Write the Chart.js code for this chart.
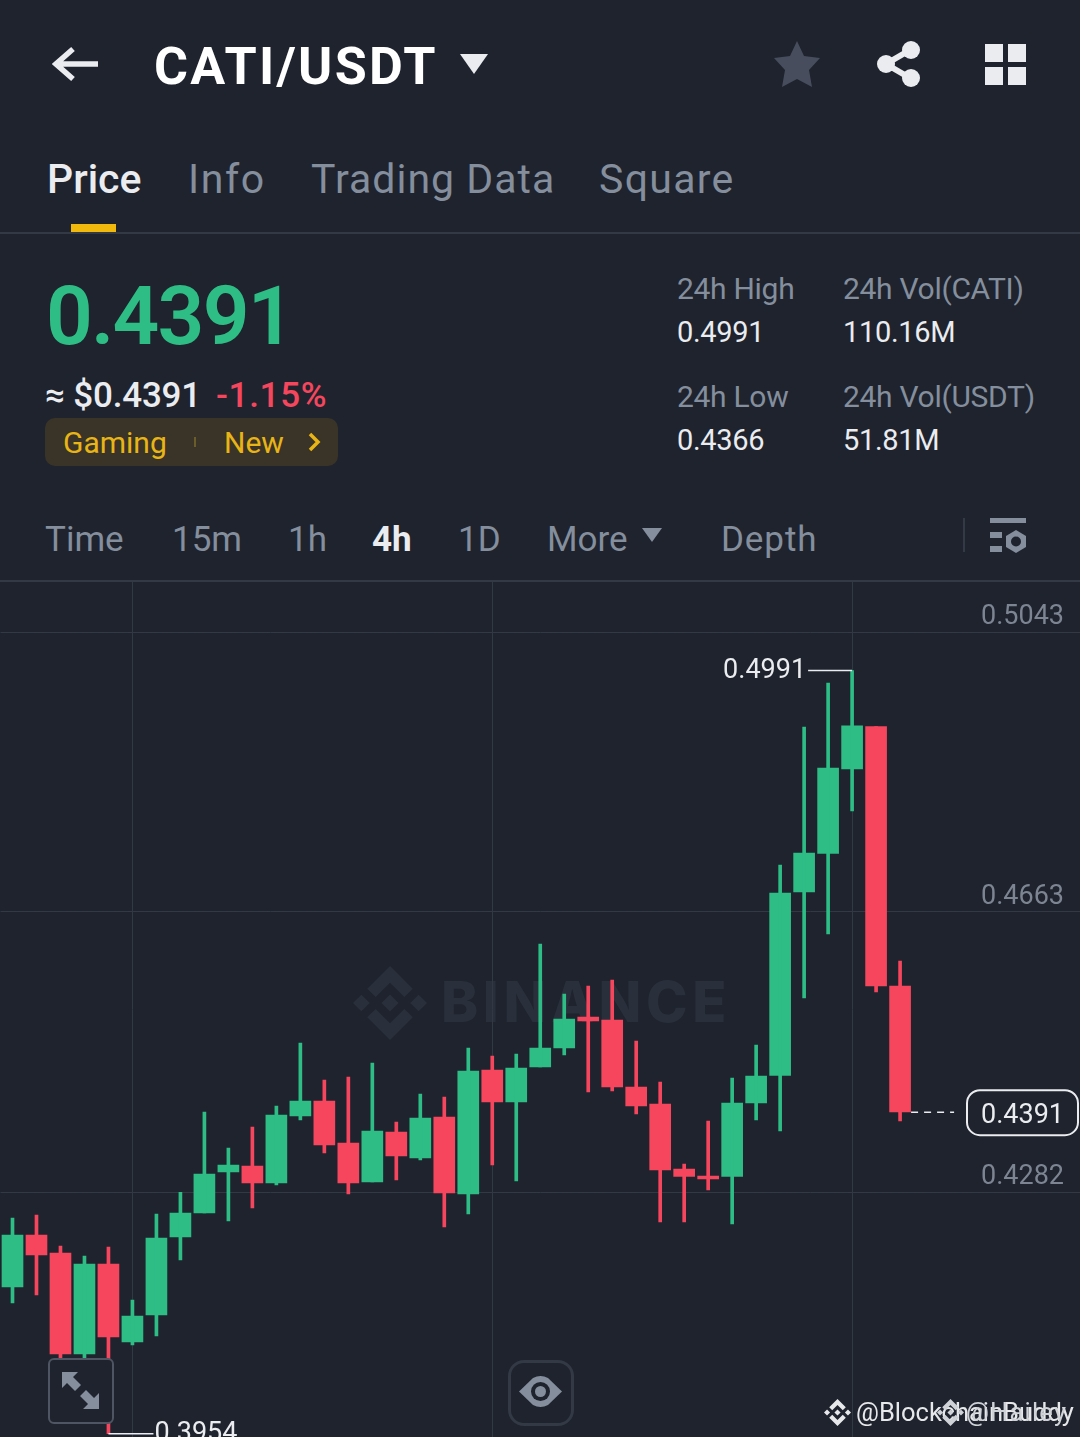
<!DOCTYPE html>
<html>
<head>
<meta charset="utf-8">
<script src="https://cdn.jsdelivr.net/npm/chart.js@4/dist/chart.umd.js"></script>
<style>
  html, body { margin: 0; padding: 0; background: #1e232e; }
  #page { position: relative; width: 1080px; height: 1437px; overflow: hidden; background: #1e232e; font-family: Roboto, sans-serif; }
  #page .t { position: absolute; white-space: nowrap; line-height: 1; }
  #page svg, #page .box { position: absolute; }
  canvas { position: absolute; left: 0; top: 582px; }
  .tab { font-size: 41px; color: #848e9c; top: 159px; letter-spacing: 1px; }
  .stat-h { font-size: 30px; color: #848e9c; letter-spacing: -0.3px; }
  .stat-v { font-size: 29px; color: #eaecef; letter-spacing: -0.3px; }
  .time { font-size: 35px; color: #848e9c; top: 522px; }
</style>
</head>
<body>
<div id="page">
  <!-- top bar -->
  <svg style="left:52px;top:46px" width="48" height="38" viewBox="0 0 48 38"><path d="M21 3 L4 18 L21 33 M5 18 H46" fill="none" stroke="#eaecef" stroke-width="5.5"/></svg>
  <div class="t" style="left:154px;top:41px;font-size:52px;font-weight:700;color:#fff;letter-spacing:2.3px">CATI/USDT</div>
  <svg style="left:459px;top:53px" width="30" height="22"><path d="M1 1 H29 L15 21 Z" fill="#eaecef"/></svg>
  <svg style="left:774px;top:40px" width="46" height="48" viewBox="0 0 46 48"><path d="M23 1 L30 16 L46 18 L35 30 L38 47 L23 39 L8 47 L11 30 L0 18 L16 16 Z" fill="#474d5c"/></svg>
  <svg style="left:876px;top:40px" width="46" height="48" viewBox="0 0 46 48"><path d="M34 10 L10 24 L34 38" fill="none" stroke="#eaecef" stroke-width="6"/><circle cx="35" cy="10" r="9" fill="#eaecef"/><circle cx="10" cy="24" r="9" fill="#eaecef"/><circle cx="35" cy="38" r="9" fill="#eaecef"/></svg>
  <svg style="left:985px;top:44px" width="41" height="41"><path d="M0 0 H18 V18 H0 Z M23 0 H41 V18 H23 Z M0 23 H18 V41 H0 Z M23 23 H41 V41 H23 Z" fill="#eaecef"/></svg>

  <!-- tabs -->
  <div class="t tab" style="left:47px;color:#eaecef;font-weight:500;letter-spacing:0">Price</div>
  <div class="t tab" style="left:188px;letter-spacing:1.6px">Info</div>
  <div class="t tab" style="left:311px">Trading Data</div>
  <div class="t tab" style="left:599px;letter-spacing:1.3px">Square</div>
  <div class="box" style="left:71px;top:224px;width:45px;height:8px;background:#f0b90b"></div>
  <div class="box" style="left:0;top:232px;width:1080px;height:2px;background:#333945"></div>

  <!-- price block -->
  <div class="t" style="left:46px;top:275px;font-size:82px;font-weight:600;color:#2ebd85;letter-spacing:-1.8px">0.4391</div>
  <div class="t" style="left:45px;top:378px;font-size:35px;font-weight:500;color:#eaecef;letter-spacing:-0.2px">≈ $0.4391</div>
  <div class="t" style="left:216px;top:378px;font-size:35px;font-weight:500;color:#f6465d;letter-spacing:0.7px">-1.15%</div>
  <div class="box" style="left:45px;top:418px;width:293px;height:48px;background:#3a3428;border-radius:10px"></div>
  <div class="t" style="left:63px;top:428px;font-size:30px;color:#e8b416">Gaming</div>
  <div class="box" style="left:194px;top:437px;width:2px;height:10px;background:#6b5d2a"></div>
  <div class="t" style="left:224px;top:428px;font-size:30px;color:#e8b416">New</div>
  <svg style="left:307px;top:432px" width="14" height="20"><path d="M3 2 L11 10 L3 18" fill="none" stroke="#e8b416" stroke-width="3.5"/></svg>

  <!-- 24h stats -->
  <div class="t stat-h" style="left:677px;top:274px">24h High</div>
  <div class="t stat-h" style="left:843px;top:274px">24h Vol(CATI)</div>
  <div class="t stat-v" style="left:677px;top:318px">0.4991</div>
  <div class="t stat-v" style="left:843px;top:318px">110.16M</div>
  <div class="t stat-h" style="left:677px;top:382px">24h Low</div>
  <div class="t stat-h" style="left:843px;top:382px">24h Vol(USDT)</div>
  <div class="t stat-v" style="left:677px;top:426px">0.4366</div>
  <div class="t stat-v" style="left:843px;top:426px">51.81M</div>

  <!-- interval row -->
  <div class="t time" style="left:45px">Time</div>
  <div class="t time" style="left:172px">15m</div>
  <div class="t time" style="left:288px">1h</div>
  <div class="t time" style="left:372px;color:#eaecef;font-weight:700">4h</div>
  <div class="t time" style="left:458px">1D</div>
  <div class="t time" style="left:547px">More</div>
  <svg style="left:642px;top:528px" width="20" height="14"><path d="M0 0 H20 L10 14 Z" fill="#848e9c"/></svg>
  <div class="t time" style="left:721px;letter-spacing:0.9px">Depth</div>
  <div class="box" style="left:963px;top:518px;width:2px;height:34px;background:#333945"></div>
  <svg style="left:990px;top:518px" width="37" height="36"><path d="M0 0 H36 V5 H0 Z M0 14 H12 V20 H0 Z M0 28 H12 V34 H0 Z" fill="#848e9c"/><path d="M26 12 L36 18 V29 L26 35 L16 29 V18 Z" fill="#848e9c"/><circle cx="26" cy="23.5" r="5" fill="#1e232e"/></svg>
  <div class="box" style="left:0;top:580px;width:1080px;height:2px;background:#333945"></div>

  <!-- BINANCE watermark sits under the canvas -->
  <svg style="left:353px;top:966px" width="74" height="74" viewBox="0 0 126.61 126.61"><path fill="#2a303b" d="M38.73 53.2l24.59-24.58 24.6 24.6 14.3-14.31L63.32 0 24.43 38.9zM0 63.31l14.3-14.31 14.31 14.31-14.31 14.3zM38.73 73.41l24.59 24.59 24.6-24.6 14.31 14.29-38.9 38.91-38.91-38.88v-.02zM98 63.31l14.3-14.31 14.31 14.3-14.31 14.32zM77.83 63.3L63.32 48.78 52.59 59.51l-1.24 1.23-2.54 2.54 14.51 14.5 14.51-14.47z"/></svg>
  <div class="t" style="left:441px;top:974px;font-family:Inter,sans-serif;font-size:56px;font-weight:800;color:#2a303b;letter-spacing:4.6px">BINANCE</div>

  <canvas id="kline" width="1080" height="855"></canvas>

  <!-- chart buttons and repost stamp -->
  <div class="box" style="left:48px;top:1358px;width:62px;height:62px;border:2px solid #4f5562;border-radius:6px;background:#1e232e"></div>
  <svg style="left:62px;top:1372px" width="38" height="38" viewBox="0 0 38 38"><path d="M0 0 H16 L11 5 L19 13 L13 19 L5 11 L0 16 Z M37 37 H21 L26 32 L18 24 L24 18 L32 26 L37 21 Z" fill="#848e9c"/></svg>
  <div class="box" style="left:508px;top:1360px;width:60px;height:60px;border:3px solid #333945;border-radius:16px"></div>
  <svg style="left:519px;top:1375px" width="43" height="33" viewBox="0 0 43 33"><path d="M0 16.5 L14 3 Q21.5 -1 29 3 L43 16.5 L29 30 Q21.5 34 14 30 Z" fill="#848e9c"/><circle cx="21.5" cy="16.5" r="9.5" fill="#1e232e"/><circle cx="21.5" cy="16.5" r="5.5" fill="#848e9c"/></svg>

  <svg style="left:824px;top:1399px" width="27" height="27" viewBox="0 0 126.61 126.61"><path fill="#e6e8ea" d="M38.73 53.2l24.59-24.58 24.6 24.6 14.3-14.31L63.32 0 24.43 38.9zM0 63.31l14.3-14.31 14.31 14.31-14.31 14.3zM38.73 73.41l24.59 24.59 24.6-24.6 14.31 14.29-38.9 38.91-38.91-38.88v-.02zM98 63.31l14.3-14.31 14.31 14.3-14.31 14.32zM77.83 63.3L63.32 48.78 52.59 59.51l-1.24 1.23-2.54 2.54 14.51 14.5 14.51-14.47z"/></svg>
  <div class="t" style="left:856px;top:1400px;font-size:25.5px;color:#e6e8ea">@BlockchainBuddy</div>
  <svg style="left:937px;top:1399px" width="27" height="27" viewBox="0 0 126.61 126.61"><path fill="#cfd2d6" d="M38.73 53.2l24.59-24.58 24.6 24.6 14.3-14.31L63.32 0 24.43 38.9zM0 63.31l14.3-14.31 14.31 14.31-14.31 14.3zM38.73 73.41l24.59 24.59 24.6-24.6 14.31 14.29-38.9 38.91-38.91-38.88v-.02zM98 63.31l14.3-14.31 14.31 14.3-14.31 14.32zM77.83 63.3L63.32 48.78 52.59 59.51l-1.24 1.23-2.54 2.54 14.51 14.5 14.51-14.47z"/></svg>
  <div class="t" style="left:966px;top:1400px;font-size:25.5px;color:#cfd2d6;letter-spacing:1.2px">@Hailey</div>
</div>

<script>
// 4h candles, oldest first. The last slots stay empty, as in the app
const categories = ["1","2","3","4","5","6","7","8","9","10","11","12","13","14","15","16","17","18","19","20","21","22","23","24","25","26","27","28","29","30","31","32","33","34","35","36","37","38","39","40","41","42","43","44","45"];
const opens = [0.41534,0.42241,0.41996,0.40624,0.41847,0.40787,0.41154,0.42214,0.4254,0.43097,0.43178,0.42947,0.43858,0.44062,0.43491,0.42961,0.4364,0.43287,0.43844,0.42798,0.44483,0.44048,0.44524,0.44782,0.45203,0.45162,0.44252,0.44021,0.43138,0.43043,0.43036,0.44034,0.44408,0.46902,0.47425,0.48573,0.49151,0.45624];
const closes = [0.42241,0.41969,0.40624,0.41847,0.40855,0.4114,0.422,0.4254,0.4307,0.43192,0.42947,0.43871,0.44062,0.43464,0.42947,0.43654,0.43314,0.43831,0.42811,0.44469,0.44048,0.4451,0.44782,0.45176,0.45149,0.44252,0.43994,0.43124,0.43036,0.43002,0.44034,0.44401,0.46888,0.47432,0.48587,0.49158,0.45624,0.43912];
const highs = [0.42472,0.42513,0.42091,0.41955,0.42078,0.41357,0.42526,0.4282,0.43912,0.43423,0.43708,0.43994,0.4485,0.44347,0.44388,0.44578,0.43776,0.44157,0.44116,0.44782,0.44673,0.447,0.46195,0.45516,0.45624,0.45706,0.44877,0.4432,0.43206,0.4379,0.44374,0.44823,0.47269,0.49144,0.49742,0.4991,0.49151,0.45964];
const lows = [0.41317,0.41425,0.40569,0.40569,0.3954,0.40746,0.40868,0.41901,0.4254,0.42431,0.42608,0.4292,0.43803,0.43355,0.42798,0.42961,0.42988,0.4326,0.42349,0.42526,0.43192,0.42975,0.44524,0.44687,0.44184,0.44198,0.43885,0.42417,0.42417,0.42852,0.4239,0.43803,0.43654,0.45461,0.46331,0.48002,0.45543,0.4379];
const priceTicks = [0.5043, 0.4663, 0.4282];
const gridSlots = [5, 20, 35];
const lastPrice = 0.4391;

const GREEN = "#2ebd85";
const RED = "#f6465d";
const GRID = "#323844";
const BG = "#1e232e";

function candleColors() {
  return opens.map((open, i) => (closes[i] >= open ? GREEN : RED));
}

// axes overlay the candles, so they must not take any room from the chart area
function noAxisRoom(axis) {
  axis.paddingTop = axis.paddingBottom = axis.paddingLeft = axis.paddingRight = 0;
  if (axis.isHorizontal()) axis.height = 0;
  else axis.width = 0;
}

// high, low and last price markers, same as the app draws over the candles
const markerPlugin = {
  id: "priceMarkers",
  afterDatasetsDraw(chart) {
    const ctx = chart.ctx;
    const x = chart.scales.x;
    const y = chart.scales.y;
    const high = Math.max(...highs);
    const low = Math.min(...lows);
    const highX = x.getPixelForValue(highs.indexOf(high));
    const lowX = x.getPixelForValue(lows.indexOf(low));
    const lastX = x.getPixelForValue(closes.length - 1);

    ctx.save();
    ctx.font = "27px Roboto";
    ctx.textBaseline = "middle";
    ctx.strokeStyle = "#eaecef";
    ctx.fillStyle = "#eaecef";
    ctx.lineWidth = 1.5;

    ctx.beginPath();
    ctx.moveTo(highX, y.getPixelForValue(high));
    ctx.lineTo(highX - 44, y.getPixelForValue(high));
    ctx.moveTo(lowX, y.getPixelForValue(low));
    ctx.lineTo(lowX + 45, y.getPixelForValue(low));
    ctx.stroke();

    ctx.textAlign = "right";
    ctx.fillText(high.toFixed(4), highX - 46, y.getPixelForValue(high) + 1);
    ctx.textAlign = "left";
    ctx.fillText(low.toFixed(4), lowX + 46, y.getPixelForValue(low));

    ctx.setLineDash([7, 6]);
    ctx.beginPath();
    ctx.moveTo(lastX + 11, y.getPixelForValue(lastPrice));
    ctx.lineTo(lastX + 54, y.getPixelForValue(lastPrice));
    ctx.stroke();
    ctx.setLineDash([]);

    ctx.beginPath();
    ctx.roundRect(967, y.getPixelForValue(lastPrice) - 22, 111, 45, 13);
    ctx.fillStyle = BG;
    ctx.fill();
    ctx.lineWidth = 2;
    ctx.stroke();
    ctx.fillStyle = "#eaecef";
    ctx.textAlign = "center";
    ctx.fillText(lastPrice.toFixed(4), 1022.5, y.getPixelForValue(lastPrice) + 4);
    ctx.restore();
  },
};

new Chart(document.getElementById("kline"), {
  type: "bar",
  data: {
    labels: categories,
    datasets: [
      {
        label: "wick",
        data: lows.map((low, i) => [low, highs[i]]),
        backgroundColor: candleColors(),
        barThickness: 3,
        grouped: false,
      },
      {
        label: "body",
        data: opens.map((open, i) => [open, closes[i]]),
        backgroundColor: candleColors(),
        barThickness: 21,
        grouped: false,
      },
    ],
  },
  options: {
    responsive: false,
    animation: false,
    devicePixelRatio: 1,
    layout: { padding: { left: 0.5 } },
    plugins: { legend: { display: false }, tooltip: { enabled: false } },
    scales: {
      x: {
        display: true,
        afterBuildTicks: (axis) => {
          axis.ticks = gridSlots.map((slot) => ({ value: slot }));
        },
        afterFit: noAxisRoom,
        ticks: { display: false, autoSkip: false },
        border: { display: false },
        grid: { color: GRID, offset: false, drawTicks: false },
      },
      y: {
        position: "right",
        min: 0.39496,
        max: 0.51114,
        afterBuildTicks: (axis) => {
          axis.ticks = priceTicks.map((value) => ({ value }));
        },
        afterFit: noAxisRoom,
        ticks: {
          mirror: true,
          padding: -16,
          labelOffset: -15,
          color: "#7d8592",
          font: { family: "Roboto", size: 27 },
          callback: (value) => value.toFixed(4),
        },
        border: { display: false },
        grid: { color: GRID, drawTicks: false },
      },
    },
  },
  plugins: [markerPlugin],
});
</script>
</body>
</html>
